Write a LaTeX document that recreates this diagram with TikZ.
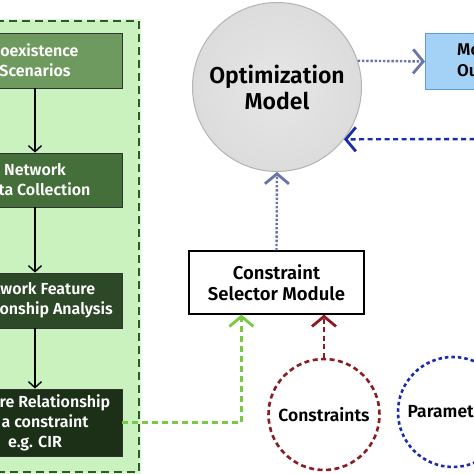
\documentclass[tikz,border=0pt]{standalone}
\usepackage{fontspec}
\setmainfont{Fira Sans}[BoldFont={Fira Sans SemiBold}]
\usetikzlibrary{arrows.meta,calc}
\definecolor{regfill}{HTML}{C9F2BE}
\definecolor{regline}{HTML}{2E5A2A}
\definecolor{gA}{HTML}{6E9A60}
\definecolor{gB}{HTML}{446E3A}
\definecolor{gC}{HTML}{2C4827}
\definecolor{gD}{HTML}{1C3018}
\definecolor{optfill}{HTML}{DCDCDC}
\definecolor{optline}{HTML}{B4B4B4}
\definecolor{outfill}{HTML}{A3D2F6}
\definecolor{outline}{HTML}{5F9CD6}
\definecolor{greyblue}{HTML}{6A76AA}
\definecolor{darkblue}{HTML}{1B2BAE}
\definecolor{lgreen}{HTML}{79C943}
\definecolor{dred}{HTML}{8A1C24}
\tikzset{
  gbox/.style={draw=black!80, line width=0.8pt, minimum width=174pt, align=center,
    text=white, font=\bfseries\fontsize{16}{20}\selectfont, inner sep=0pt},
  blk/.style={draw=black, line width=1.2pt, -{Straight Barb[length=6pt,width=13pt,line width=1.4pt]}},
  chev/.style={-{Straight Barb[length=10pt,width=24pt,line width=2.8pt]}},
  gbarrow/.style={draw=greyblue, line width=2.4pt, dash pattern=on 2.4pt off 1.8pt, chev},
}
\begin{document}
\begin{tikzpicture}[x=1pt,y=-1pt]
\useasboundingbox (0,0) rectangle (474,474);
\fill[white] (0,0) rectangle (474,474);
% region
\draw[regfill!60!white, line width=4pt] (-20,21) rectangle (139,472);
\draw[fill=regfill, draw=regline, line width=1.4pt, dash pattern=on 8pt off 5pt] (-20,21) rectangle (139,472);
% green boxes
\node[gbox, fill=gA, minimum height=55pt] (b1) at (35,60.5) {Coexistence\\Scenarios};
\node[gbox, fill=gB, minimum height=54pt] (b2) at (35,180) {Network\\Data Collection};
\node[gbox, fill=gC, minimum height=55pt] (b3) at (35,300.5) {Network Feature\\Relationship Analysis};
\node[gbox, fill=gD, minimum height=67pt] (b4) at (35,422.5) {Feature Relationship\\as a constraint\\e.g. CIR};
\draw[blk] (b1.south) -- (b2.north);
\draw[blk] (b2.south) -- (b3.north);
\draw[blk] (b3.south) -- (b4.north);
% optimization model
\node[circle, minimum size=169pt, inner sep=0pt, draw=optline, line width=1pt,
  inner color=optfill!70!white, outer color=optfill, align=center,
  font=\bfseries\fontsize{23}{26}\selectfont] (opt) at (277,87) {Optimization\\Model};
% output box
\node[draw=outline, line width=1pt, fill=outfill, minimum width=95pt, minimum height=56pt,
  anchor=north west] (out) at (425,33) {};
\node[anchor=west, align=left, font=\bfseries\fontsize{17}{21}\selectfont, inner sep=0pt] (outtxt) at (457,61) {Model\\Output};
\draw[gbarrow] (opt.18) -- (out.west);
% blue dashed from right
\coordinate (rin) at (500,139);
\draw[darkblue, line width=2.4pt, dash pattern=on 5pt off 3.5pt, chev] (rin) -- (opt.-38);
% selector
\node[draw=black, line width=1.2pt, fill=white, minimum width=175pt, minimum height=63pt,
  align=center, font=\bfseries\fontsize{18.5}{21}\selectfont, inner sep=0pt] (sel) at (276.5,282.5) {Constraint\\Selector Module};
\draw[gbarrow] (sel.north) -- (opt.south);
% green dashed
\coordinate (gtip) at ($(sel.south west)+(53,0)$);
\draw[lgreen, line width=2.6pt, dash pattern=on 6pt off 4pt, chev] (b4.east) -| (gtip);
% constraints
\node[circle, minimum size=111pt, inner sep=0pt, draw=dred, line width=2.6pt,
  dash pattern=on 5pt off 3.5pt, font=\bfseries\fontsize{17.5}{20}\selectfont] (con) at (324,414.5) {Constraints};
\draw[dred, line width=2.6pt, dash pattern=on 5pt off 3.5pt, chev] (con.north) -- (con.north |- sel.south);
% parameters
\node[circle, minimum size=110pt, inner sep=0pt, draw=darkblue, line width=2.6pt,
  dash pattern=on 3.5pt off 3pt, font=\bfseries\fontsize{17.5}{20}\selectfont] (par) at (453,412) {Parameters};
\end{tikzpicture}
\end{document}
